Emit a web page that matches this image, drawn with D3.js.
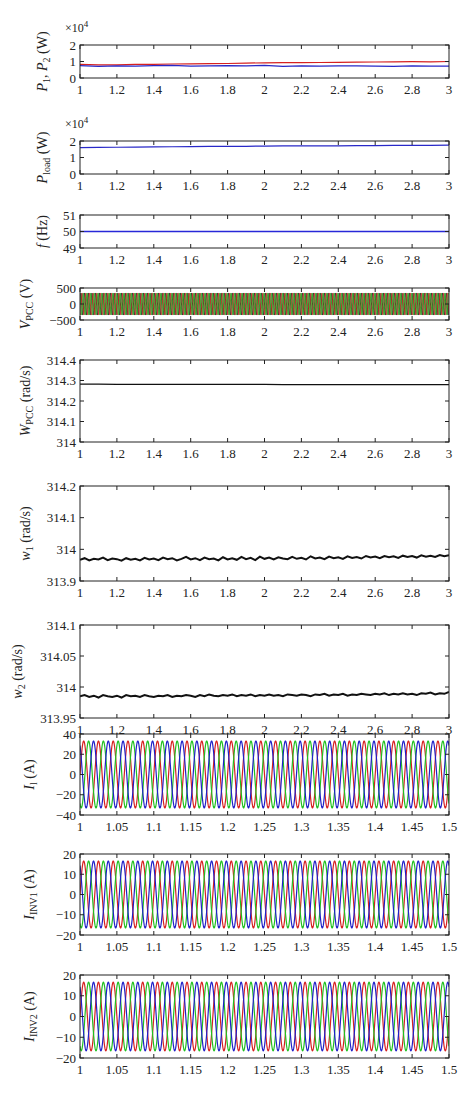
<!DOCTYPE html><html><head><meta charset="utf-8">
<script src="https://d3js.org/d3.v7.min.js"></script>
<style>body{margin:0;background:#fff}text{font-family:"Liberation Serif",serif;fill:#222}</style></head><body>
<svg id="c" width="474" height="1099"></svg>
<script>
const xTicks2 = [1,1.2,1.4,1.6,1.8,2,2.2,2.4,2.6,2.8,3];
const xTicks05 = [1,1.05,1.1,1.15,1.2,1.25,1.3,1.35,1.4,1.45,1.5];
// slowly varying series sampled at t = 1..3 (step 0.1)
const tSlow = [1,1.1,1.2,1.3,1.4,1.5,1.6,1.7,1.8,1.9,2,2.1,2.2,2.3,2.4,2.5,2.6,2.7,2.8,2.9,3];
const P1 = [0.82,0.80,0.80,0.82,0.83,0.85,0.86,0.87,0.88,0.90,0.92,0.93,0.93,0.94,0.95,0.96,0.97,0.98,0.99,0.98,1.0];
const P2 = [0.75,0.70,0.73,0.72,0.75,0.76,0.72,0.73,0.75,0.74,0.76,0.70,0.74,0.72,0.73,0.74,0.72,0.70,0.74,0.72,0.72];
const Pload = [1.60,1.61,1.62,1.63,1.64,1.65,1.66,1.67,1.68,1.68,1.69,1.70,1.70,1.71,1.71,1.72,1.72,1.73,1.73,1.74,1.75];
const fHz = tSlow.map(()=>50);
const Wpcc = [314.282,314.282,314.281,314.281,314.281,314.281,314.281,314.281,314.281,314.281,314.281,314.28,314.28,314.28,314.28,314.28,314.28,314.28,314.28,314.28,314.28];
// fast ripple series, sampled at t = 1..3 step 0.025
const w1 = [313.967,313.972,313.965,313.970,313.968,313.974,313.966,313.971,313.969,313.964,313.972,313.967,313.970,313.965,313.973,313.968,313.971,313.966,313.974,313.969,313.972,313.965,313.970,313.976,313.968,313.972,313.966,313.974,313.969,313.971,313.965,313.975,313.968,313.972,313.967,313.976,313.969,313.973,313.966,313.977,313.970,313.974,313.968,313.975,313.971,313.969,313.976,313.970,313.973,313.968,313.978,313.971,313.974,313.969,313.977,313.972,313.975,313.970,313.978,313.973,313.976,313.971,313.979,313.974,313.977,313.972,313.979,313.975,313.978,313.973,313.980,313.976,313.979,313.974,313.981,313.977,313.980,313.976,313.982,313.978,313.981];
const w2 = [313.985,313.987,313.984,313.986,313.983,313.987,313.985,313.984,313.986,313.983,313.987,313.985,313.986,313.984,313.987,313.985,313.984,313.986,313.985,313.987,313.984,313.986,313.985,313.987,313.986,313.984,313.987,313.985,313.988,313.986,313.985,313.987,313.986,313.988,313.985,313.987,313.986,313.988,313.985,313.987,313.986,313.988,313.986,313.987,313.985,313.988,313.987,313.986,313.988,313.987,313.985,313.988,313.987,313.989,313.986,313.988,313.987,313.989,313.986,313.988,313.987,313.989,313.988,313.987,313.989,313.988,313.990,313.987,313.989,313.988,313.990,313.988,313.989,313.987,313.990,313.989,313.991,313.988,313.990,313.989,313.992];
// three-phase waveform parameters
const phaseColors = ["#d62020","#20c020","#2020c8"];
const phaseShift = [0,-120,120];
const freqHz = 50;
const ampVpcc = 340, ampIl = 33, ampInv1 = 16.5, ampInv2 = 16.5;

const svg = d3.select("#c");
const L=80,R=449;
const neg=d=>d<0?"\u2212"+(-d):d;
const panels = [
 {top:45,bot:78,yd:[0,2],yt:[0,1,2],xt:xTicks2,exp:true,lx:47,label:[["P",0],["1",1],[", ",0],["P",0],["2",1],[" (W)",0]]},
 {top:141,bot:174,yd:[0,2],yt:[0,1,2],xt:xTicks2,exp:true,lx:47,label:[["P",0],["load",1],[" (W)",0]]},
 {top:215,bot:248,yd:[49,51],yt:[49,50,51],xt:xTicks2,lx:47,label:[["f",0],[" (Hz)",0]]},
 {top:288,bot:320,yd:[-500,500],yt:[-500,0,500],xt:xTicks2,lx:30,label:[["V",0],["PCC",1],[" (V)",0]],fmt:neg},
 {top:360,bot:442,yd:[314,314.4],yt:[314,314.1,314.2,314.3,314.4],xt:xTicks2,lx:30,label:[["W",0],["PCC",1],[" (rad/s)",0]]},
 {top:486,bot:581,yd:[313.9,314.2],yt:[313.9,314,314.1,314.2],xt:xTicks2,lx:30,label:[["w",0],["1",1],[" (rad/s)",0]]},
 {top:625,bot:718,yd:[313.95,314.1],yt:[313.95,314,314.05,314.1],xt:xTicks2,lx:22,label:[["w",0],["2",1],[" (rad/s)",0]]},
 {top:734,bot:815,yd:[-40,40],yt:[-40,-20,0,20,40],xt:xTicks05,lx:34,label:[["I",0],["l",1],[" (A)",0]],fmt:neg},
 {top:854,bot:935,yd:[-20,20],yt:[-20,-10,0,10,20],xt:xTicks05,lx:34,label:[["I",0],["INV1",1],[" (A)",0]],fmt:neg},
 {top:975,bot:1058,yd:[-20,20],yt:[-20,-10,0,10,20],xt:xTicks05,lx:34,label:[["I",0],["INV2",1],[" (A)",0]],fmt:neg},
];
panels.forEach((p,i)=>{
  const g=svg.append("g");
  p.x=d3.scaleLinear().domain([p.xt[0],p.xt[p.xt.length-1]]).range([L,R]);
  p.y=d3.scaleLinear().domain(p.yd).range([p.bot,p.top]);
  p.g=g;
  const clip="cl"+i;
  svg.append("clipPath").attr("id",clip).append("rect").attr("x",L).attr("y",p.top).attr("width",R-L).attr("height",p.bot-p.top);
  p.pg=g.append("g").attr("clip-path",`url(#${clip})`);
});
const line=(p,xs,ys,c,w)=>p.pg.append("path").datum(xs.map((t,k)=>[t,ys[k]]))
  .attr("d",d3.line().x(d=>p.x(d[0])).y(d=>p.y(d[1]))).attr("fill","none").attr("stroke",c).attr("stroke-width",w||1.2);
const tFast = w1.map((_,k)=>1+k*0.025);
line(panels[0],tSlow,P1,"#d62020");
line(panels[0],tSlow,P2,"#2828c8");
line(panels[1],tSlow,Pload,"#2828c8");
line(panels[2],tSlow,fHz,"#2828d8",1.4);
line(panels[4],tSlow,Wpcc,"#111");
line(panels[5],tFast,w1,"#111",2);
line(panels[6],tFast,w2,"#111",2);
function wave(p,amp,t0,t1,n,w,colors){
  const ts=d3.range(n+1).map(k=>t0+(t1-t0)*k/n);
  colors.forEach((c,j)=>line(p,ts,ts.map(t=>amp*Math.sin(2*Math.PI*freqHz*t+phaseShift[j]*Math.PI/180)),c,w));
}
wave(panels[3],ampVpcc,1,3,8000,1,["#111","#d62020","#20b020"]);
wave(panels[7],ampIl,1,1.5,3000,1.2,phaseColors);
wave(panels[8],ampInv1,1,1.5,3000,1.2,phaseColors);
wave(panels[9],ampInv2,1,1.5,3000,1.2,phaseColors);
panels.forEach(p=>{
  const g=p.g,x=p.x,y=p.y;
  g.append("rect").attr("x",L).attr("y",p.top).attr("width",R-L).attr("height",p.bot-p.top).attr("fill","none").attr("stroke","#222").attr("stroke-width",1);
  p.xt.forEach(t=>{
    g.append("line").attr("x1",x(t)).attr("x2",x(t)).attr("y1",p.bot).attr("y2",p.bot-4).attr("stroke","#222");
    g.append("line").attr("x1",x(t)).attr("x2",x(t)).attr("y1",p.top).attr("y2",p.top+4).attr("stroke","#222");
    g.append("text").attr("x",x(t)).attr("y",p.bot+16).attr("text-anchor","middle").attr("font-size",13).text(t);
  });
  p.yt.forEach(t=>{
    g.append("line").attr("x1",L).attr("x2",L+4).attr("y1",y(t)).attr("y2",y(t)).attr("stroke","#222");
    g.append("line").attr("x1",R).attr("x2",R-4).attr("y1",y(t)).attr("y2",y(t)).attr("stroke","#222");
    g.append("text").attr("x",L-4).attr("y",y(t)+4.5).attr("text-anchor","end").attr("font-size",13).text(p.fmt?p.fmt(t):t);
  });
  const cy=(p.top+p.bot)/2;
  const tx=g.append("text").attr("transform",`translate(${p.lx},${cy}) rotate(-90)`).attr("text-anchor","middle").attr("font-size",14);
  let prevSub=false;
  p.label.forEach(([s,sub])=>{
    const ts=tx.append("tspan").text(s);
    if(sub)ts.attr("font-size",10);
    ts.attr("dy",sub&&!prevSub?3:(!sub&&prevSub?-3:0));
    if(!sub&&s.length===1)ts.attr("font-style","italic");
    prevSub=!!sub;
  });
  if(p.exp){
    const e=g.append("text").attr("x",L-15).attr("y",p.top-13).attr("font-size",12).text("\u00d710");
    e.append("tspan").attr("dy",-5).attr("font-size",9).text("4");
  }
});
</script></body></html>
